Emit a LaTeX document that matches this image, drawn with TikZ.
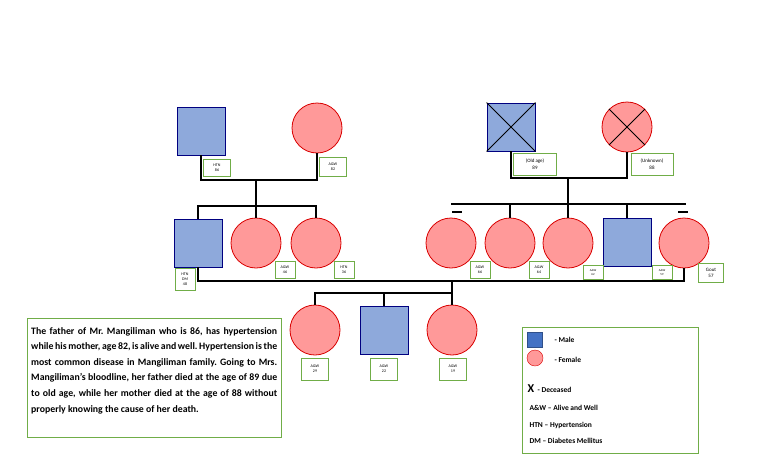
\documentclass[tikz,border=0pt]{standalone}
\usepackage{fontspec}
\setmainfont{Carlito}
\begin{document}
\begin{tikzpicture}[x=1pt,y=-1pt,
 male/.style={draw=blue!50!black,line width=0.8pt,minimum size=48pt,inner sep=0pt},
 fem/.style={circle,draw=red!85!black,line width=0.8pt,minimum size=50pt,inner sep=0pt},
 lab/.style={draw=gbox,fill=white,line width=0.8pt,font=\fontsize{4}{5}\selectfont,align=center,minimum width=20pt,minimum height=17pt,inner sep=1pt},
 ln/.style={line width=1.8pt}]
\useasboundingbox (0,0) rectangle (768,466);
\definecolor{mblue}{HTML}{8EA9DB}\definecolor{fred}{HTML}{FF9999}\definecolor{gbox}{HTML}{70AD47}
\tikzset{male/.append style={fill=mblue},fem/.append style={fill=fred}}
% Gen1 left
\node[male] (gf) at (201,131) {};
\node[fem] (gm) at (317,128) {};
% Gen1 right
\node[male] (mgf) at (511,127) {};
\node[fem] (mgm) at (627,127) {};
\draw[line width=1pt] (mgf.north west)--(mgf.south east) (mgf.north east)--(mgf.south west);
\draw[line width=1pt] (mgm.45)--(mgm.225) (mgm.135)--(mgm.315);
% Gen2
\node[male] (f) at (198,243) {};
\node[fem] (a1) at (256,243) {};
\node[fem] (a2) at (316,243) {};
\node[fem] (m1) at (451,243) {};
\node[fem] (m2) at (510,243) {};
\node[fem] (m3) at (568,243) {};
\node[male] (m4) at (627,242) {};
\node[fem] (m5) at (684,243) {};
% Gen3
\node[fem] (c1) at (315,330) {};
\node[male] (c2) at (384,330) {};
\node[fem] (c3) at (452,330) {};
% connectors
\coordinate (j1) at (256,180);
\draw[ln] (gf.south) |- (j1) -| (gm.south);
\draw[ln] (j1) -- (256,206);
\draw[ln] (f.north) |- (256,206) -| (a2.north);
\draw[ln] (256,206) -- (a1.north);
\coordinate (j2) at (568,178);
\draw[ln] (mgf.south) |- (j2) -| (mgm.south);
\draw[ln] (j2) -- (568,204);
\draw[ln] (451,204) -- (686,204);
\draw[ln] (510,204) -- (m2.north);
\draw[ln] (568,204) -- (m3.north);
\draw[ln] (627,204) -- (m4.north);
\draw[ln] (452,212) -- (462,212);
\draw[ln] (678,212) -- (688,212);
\coordinate (j3) at (452,281);
\draw[ln] (f.south) |- (j3) -| (m5.south);
\draw[ln] (j3) -- (452,293);
\draw[ln] (c1.north) |- (452,293) -- (c3.north);
\draw[ln] (384,293) -- (c2.north);
% labels
\node[lab,minimum width=27pt] at (217,168) {HTN\\86};
\node[lab,minimum width=27pt,minimum height=19pt] at (333,167) {A\&W\\82};
\node[lab,minimum height=22pt] at (185,279) {HTN\\DM\\48};
\node[lab] at (285,270) {A\&W\\46};
\node[lab] at (344,270) {HTN\\36};
\node[lab,minimum width=43pt,minimum height=22pt,font=\fontsize{5}{6.5}\selectfont] at (535,164) {(Old age)\\89};
\node[lab,minimum width=42pt,minimum height=22pt,font=\fontsize{5}{6.5}\selectfont] at (652,164) {(Unknown)\\88};
\node[lab] at (480,270) {A\&W\\66};
\node[lab] at (539,270) {A\&W\\64};
\node[lab,minimum height=14pt,font=\fontsize{3}{4}\selectfont] at (593,272) {A\&W\\62};
\node[lab,minimum height=14pt,font=\fontsize{3}{4}\selectfont] at (662,272) {A\&W\\59};
\node[lab,minimum width=25pt,minimum height=19pt,font=\fontsize{5}{6.5}\selectfont] at (711,273) {Gout\\57};
\node[lab,minimum width=27pt,minimum height=22pt] at (315,369) {A\&W\\29};
\node[lab,minimum width=27pt,minimum height=22pt] at (384,369) {A\&W\\22};
\node[lab,minimum width=27pt,minimum height=22pt] at (453,369) {A\&W\\19};
% text box
\draw[gbox,line width=0.8pt] (27,318) rectangle (281,437);
\node[anchor=north west,text width=246pt,align=justify,inner sep=0pt,font=\fontsize{9.8}{15.6}\selectfont\bfseries] (txt) at (31,327) {\hyphenpenalty=10000\relax\tolerance=9999\relax\frenchspacing The father of Mr. Mangiliman who is 86, has hypertension while his mother, age 82, is alive and well. Hypertension is the most common disease in Mangiliman family. Going to Mrs. Mangiliman's bloodline, her father died at the age of 89 due to old age, while her mother died at the age of 88 without properly knowing the cause of her death.};
% legend
\draw[gbox,line width=0.8pt] (522,327) rectangle (698,453);
\definecolor{lblue}{HTML}{4472C4}
\node[draw=lblue!70!black,fill=lblue,minimum size=15pt,inner sep=0pt] (lm) at (535,340) {};
\node[anchor=west,font=\fontsize{7.5}{8}\selectfont\bfseries] at (551,340) {- Male};
\node[circle,draw=red!85!black,fill=fred,minimum size=16pt,inner sep=0pt] (lf) at (535,358) {};
\node[anchor=west,font=\fontsize{7.5}{8}\selectfont\bfseries] at (551,360) {- Female};
\node[anchor=west,font=\fontsize{7.5}{8}\selectfont\bfseries] at (524,389) {{\fontsize{12}{12}\selectfont X}\ \ - Deceased};
\node[anchor=west,font=\fontsize{7.5}{8}\selectfont\bfseries] at (526,408) {A\&W – Alive and Well};
\node[anchor=west,font=\fontsize{7.5}{8}\selectfont\bfseries] at (526,425) {HTN – Hypertension};
\node[anchor=west,font=\fontsize{7.5}{8}\selectfont\bfseries] at (526,441) {DM – Diabetes Mellitus};
\end{tikzpicture}
\end{document}
